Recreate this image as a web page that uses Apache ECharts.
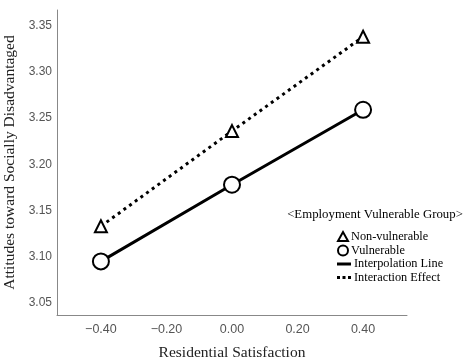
<!DOCTYPE html>
<html><head><meta charset="utf-8">
<script src="https://cdn.jsdelivr.net/npm/echarts@6/dist/echarts.min.js"></script>
<style>html,body{margin:0;padding:0;background:#fff}#c{width:474px;height:361px}</style>
</head><body><div id="c"></div>
<script>
const xValues = [-0.40, 0.00, 0.40];
const nonVulnerable = [3.133, 3.236, 3.338];
const vulnerable = [3.095, 3.178, 3.259];
const xTicks = [-0.40, -0.20, 0.00, 0.20, 0.40];
const yTicks = [3.05, 3.10, 3.15, 3.20, 3.25, 3.30, 3.35];
const legendTitle = '<Employment Vulnerable Group>';
const legendItems = ['Non-vulnerable', 'Vulnerable', 'Interpolation Line', 'Interaction Effect'];

const chart = echarts.init(document.getElementById('c'), null, {renderer: 'canvas'});
const fmt = v => (v < 0 ? '\u2212' + Math.abs(v).toFixed(2) : v.toFixed(2));
const serif = 'Liberation Serif';
const lx = 343, ly = 237, ls = 13.5;
chart.setOption({
  animation: false,
  grid: {left: 57, right: 67, top: 10, bottom: 46, containLabel: false, outerBoundsMode: 'none'},
  xAxis: {
    type: 'value', min: -0.534, max: 0.534,
    name: 'Residential Satisfaction', nameLocation: 'middle', nameGap: 30,
    nameTextStyle: {fontFamily: serif, fontSize: 15.5, color: '#222'},
    axisLine: {onZero: false, lineStyle: {color: '#888', width: 1}},
    axisTick: {show: false}, splitLine: {show: false},
    axisLabel: {customValues: xTicks, formatter: fmt, fontFamily: 'Liberation Sans', fontSize: 12.5, color: '#555', margin: 8}
  },
  yAxis: {
    type: 'value', min: 3.037, max: 3.367,
    name: 'Attitudes toward Socially Disadvantaged', nameLocation: 'middle', nameGap: 39, nameMoveOverlap: false,
    nameTextStyle: {fontFamily: serif, fontSize: 15.5, color: '#222'},
    axisLine: {show: true, onZero: false, lineStyle: {color: '#888', width: 1}},
    axisTick: {show: false}, splitLine: {show: false},
    axisLabel: {customValues: yTicks, formatter: v => v.toFixed(2), fontFamily: 'Liberation Sans', fontSize: 12, color: '#555', margin: 5}
  },
  series: [
    {name: legendItems[0], type: 'line', data: xValues.map((x, i) => [x, nonVulnerable[i]]),
     symbol: 'triangle', symbolSize: 12,
     itemStyle: {color: '#fff', borderColor: '#000', borderWidth: 2},
     lineStyle: {color: '#000', width: 3, type: [3, 4]}},
    {name: legendItems[1], type: 'line', data: xValues.map((x, i) => [x, vulnerable[i]]),
     symbol: 'circle', symbolSize: 16,
     itemStyle: {color: '#fff', borderColor: '#000', borderWidth: 2},
     lineStyle: {color: '#000', width: 3}}
  ],
  graphic: [
    {type: 'text', x: 375, y: 215, style: {text: legendTitle, fontFamily: serif, fontSize: 12.8, fill: '#000', align: 'center', verticalAlign: 'middle'}},
    {type: 'polygon', shape: {points: [[lx - 5, ly + 4], [lx + 5, ly + 4], [lx, ly - 5]]}, style: {fill: '#fff', stroke: '#000', lineWidth: 2}},
    {type: 'circle', shape: {cx: lx, cy: ly + ls, r: 5}, style: {fill: '#fff', stroke: '#000', lineWidth: 2}},
    {type: 'line', shape: {x1: lx - 6, y1: ly + 2 * ls, x2: lx + 8, y2: ly + 2 * ls}, style: {stroke: '#000', lineWidth: 3}},
    {type: 'line', shape: {x1: lx - 6, y1: ly + 3 * ls, x2: lx + 8, y2: ly + 3 * ls}, style: {stroke: '#000', lineWidth: 3, lineDash: [3, 2.5]}},
    {type: 'text', x: lx + 8, y: ly, style: {text: legendItems[0], fontFamily: serif, fontSize: 12.3, fill: '#000', verticalAlign: 'middle'}},
    {type: 'text', x: lx + 8, y: ly + ls, style: {text: legendItems[1], fontFamily: serif, fontSize: 12.3, fill: '#000', verticalAlign: 'middle'}},
    {type: 'text', x: lx + 11, y: ly + 2 * ls, style: {text: legendItems[2], fontFamily: serif, fontSize: 12.3, fill: '#000', verticalAlign: 'middle'}},
    {type: 'text', x: lx + 11, y: ly + 3 * ls, style: {text: legendItems[3], fontFamily: serif, fontSize: 12.3, fill: '#000', verticalAlign: 'middle'}}
  ]
});
</script></body></html>
